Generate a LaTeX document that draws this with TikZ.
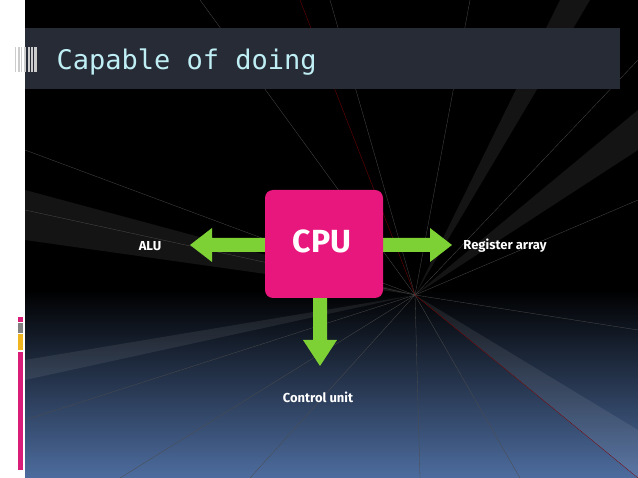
\documentclass[tikz,border=0pt]{standalone}
\usepackage{fontspec}
\setmainfont{Fira Sans}
\newfontfamily\monofont{DejaVu Sans Mono}
\definecolor{bgblue}{HTML}{4D6C9E}
\definecolor{band}{HTML}{262B36}
\definecolor{titlec}{HTML}{BFEFF5}
\definecolor{cpupink}{HTML}{E8177D}
\definecolor{arrgreen}{HTML}{7DD135}
\definecolor{barpink}{HTML}{D81E78}
\definecolor{bargold}{HTML}{F0B41E}
\tikzset{
  lbl/.style={text=white,font=\bfseries\fontsize{13}{15}\selectfont},
  garrow/.style={fill=arrgreen,draw=none},
  ray/.style={draw=white!30!black,line width=0.3pt},
  wedge/.style={fill=white,fill opacity=0.08,draw=none}
}
\begin{document}
\begin{tikzpicture}[x=1pt,y=-1pt]
\useasboundingbox (0,0) rectangle (638,478);
\fill[white] (0,0) rectangle (638,478);
\fill[black] (25,0) rectangle (638,290);
\shade[top color=black,bottom color=bgblue] (25,290) rectangle (638,478);
% rays
\coordinate (c) at (415,295);
\fill[wedge] (c) -- (25,190) -- (25,240) -- cycle;
\fill[wedge] (c) -- (638,110) -- (638,150) -- cycle;
\fill[wedge] (c) -- (560,0) -- (590,0) -- cycle;
\fill[wedge] (c) -- (638,430) -- (638,478) -- cycle;
\fill[wedge] (c) -- (25,360) -- (25,380) -- cycle;
\foreach \p in {(25,150),(25,210),(200,0),(330,0),(470,0),(638,60),(638,200),(638,330),(520,478),(420,478),(250,478),(25,420),(120,478)}
  \draw[ray] (c) -- \p;
\draw[draw=red!50!black,line width=0.3pt] (c) -- (300,0);
\draw[draw=red!50!black,line width=0.3pt] (c) -- (638,478);
% title band
\fill[band] (25,28) rectangle (620,89);
\foreach \xx/\ww in {15/1,18/1.5,21/1,24/2,28/1.5,31/2,34/3}
  \fill[white!80!black] (\xx,47) rectangle ++(\ww,25);
\node[anchor=west,text=titlec,font=\monofont\fontsize{27}{31}\selectfont] (title) at (53,62) {Capable of doing};
% left bar
\fill[barpink] (18,317) rectangle (23,322);
\fill[gray] (18,323) rectangle (23,333);
\fill[bargold] (18,334) rectangle (23,350);
\fill[barpink] (18,352) rectangle (23,470);
% arrows
\fill[garrow] (266,238) -- (212,238) -- (212,228) -- (190,245) -- (212,262) -- (212,252) -- (266,252) -- cycle;
\fill[garrow] (382,238) -- (430,238) -- (430,228) -- (452,245) -- (430,262) -- (430,252) -- (382,252) -- cycle;
\fill[garrow] (313,297) -- (313,340) -- (303,340) -- (320,366) -- (337,340) -- (327,340) -- (327,297) -- cycle;
% CPU
\node[fill=cpupink,rounded corners=8pt,minimum width=118pt,minimum height=108pt,inner sep=0pt] (cpu) at (324,244) {};
\node[text=white,font=\bfseries\fontsize{32}{36}\selectfont] (cputxt) at (322,241) {CPU};
\node[lbl] (alu) at (150,246) {ALU};
\node[lbl] (reg) at (505,246) {Register array};
\node[lbl] (cu) at (318,397) {Control unit};
\end{tikzpicture}
\end{document}
